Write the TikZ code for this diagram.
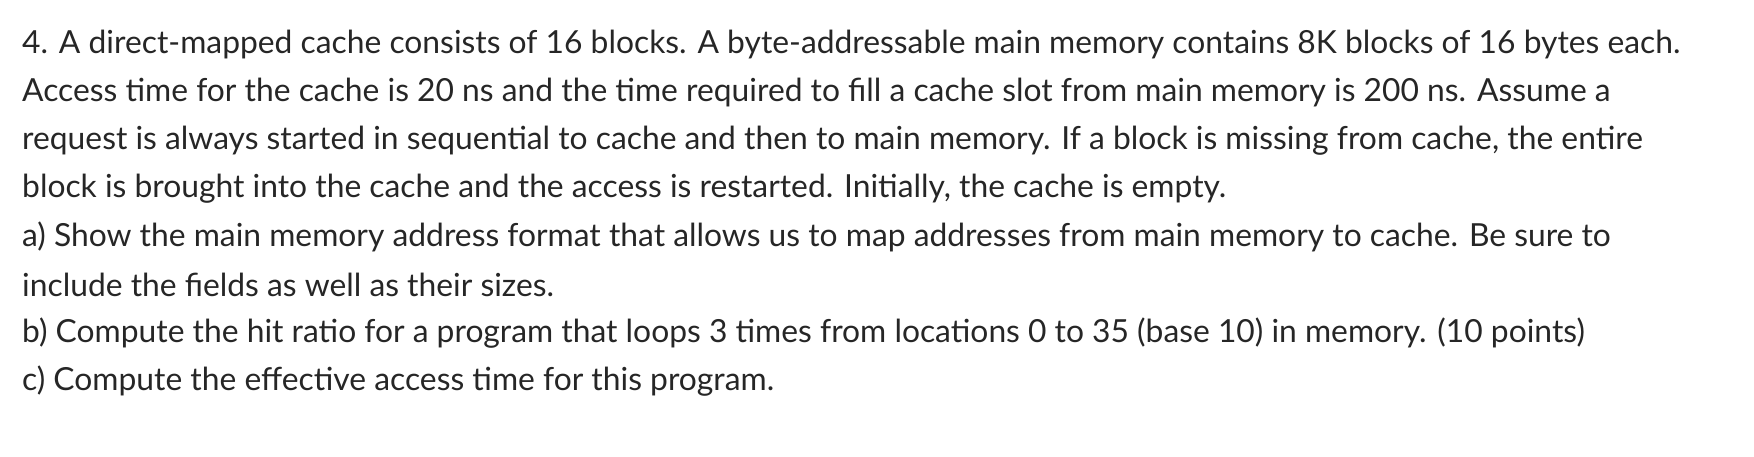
\documentclass[tikz,border=0pt]{standalone}
\usepackage{fontspec}
\setmainfont{Lato}
\begin{document}
\begin{tikzpicture}[x=1pt,y=1pt,txt/.style={anchor=west,inner sep=0pt,font=\fontsize{31.8}{36}\selectfont,text=black!85}]
\useasboundingbox (0,0) rectangle (1754,-456);
\node[txt] (l1) at (22,-45) {4. A direct-mapped cache consists of 16 blocks. A byte-addressable main memory contains 8K blocks of 16 bytes each.};
\node[txt] (l2) at (22,-93) {Access time for the cache is 20 ns and the time required to fill a cache slot from main memory is 200 ns. Assume a};
\node[txt] (l3) at (22,-141) {request is always started in sequential to cache and then to main memory. If a block is missing from cache, the entire};
\node[txt] (l4) at (22,-189) {block is brought into the cache and the access is restarted. Initially, the cache is empty.};
\node[txt] (l5) at (22,-237) {a) Show the main memory address format that allows us to map addresses from main memory to cache. Be sure to};
\node[txt] (l6) at (22,-285) {include the fields as well as their sizes.};
\node[txt] (l7) at (22,-333) {b) Compute the hit ratio for a program that loops 3 times from locations 0 to 35 (base 10) in memory. (10 points)};
\node[txt] (l8) at (22,-381) {c) Compute the effective access time for this program.};
\end{tikzpicture}
\end{document}
